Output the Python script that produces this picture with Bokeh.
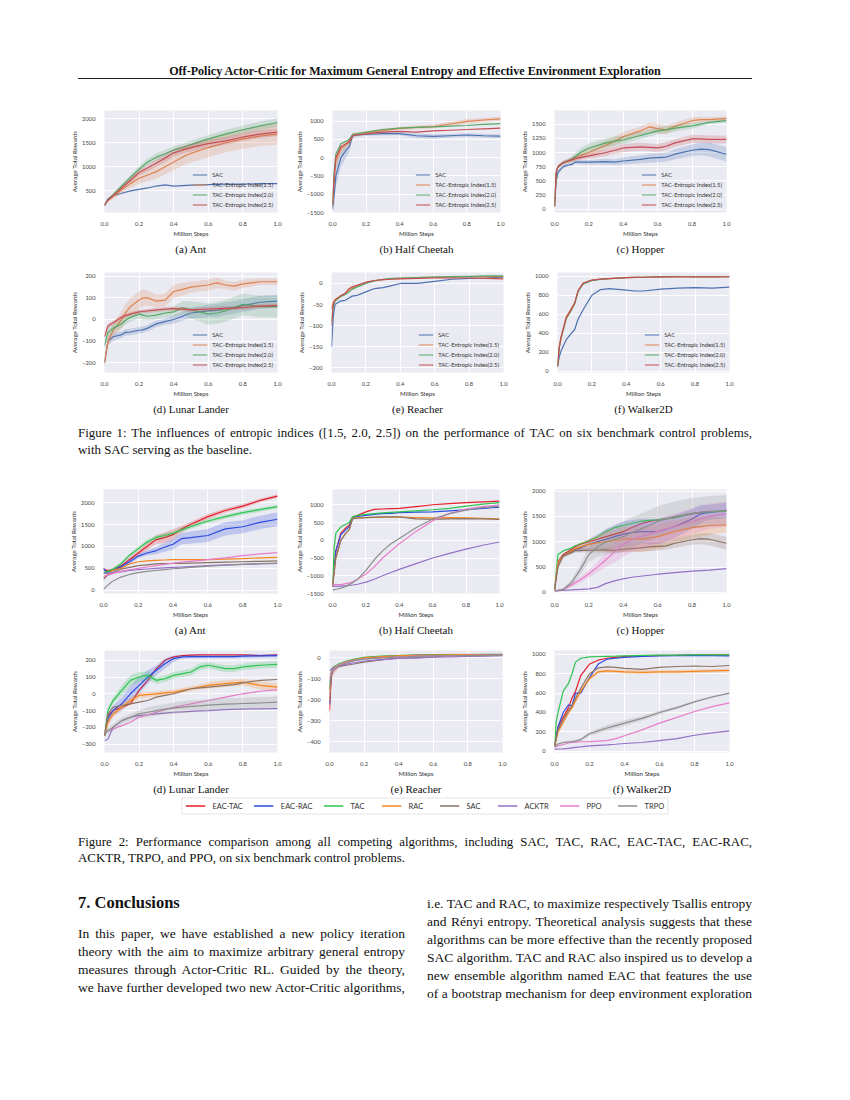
from bokeh.plotting import figure
from bokeh.layouts import column, row
from bokeh.models import Range1d, FixedTicker, Legend, LegendItem, Div, NumeralTickFormatter
from bokeh.embed import file_html
from bokeh.resources import INLINE

# ---------------------------------------------------------------- texts
HEADER = "Off-Policy Actor-Critic for Maximum General Entropy and Effective Environment Exploration"
CAP1 = ["Figure 1: The influences of entropic indices ([1.5, 2.0, 2.5]) on the performance of TAC on six benchmark control problems,",
        "with SAC serving as the baseline."]
CAP2 = ["Figure 2: Performance comparison among all competing algorithms, including SAC, TAC, RAC, EAC-TAC, EAC-RAC,",
        "ACKTR, TRPO, and PPO, on six benchmark control problems."]
SECTION = "7. Conclusions"
CONCL_LEFT = ["In this paper, we have established a new policy iteration",
              "theory with the aim to maximize arbitrary general entropy",
              "measures through Actor-Critic RL. Guided by the theory,",
              "we have further developed two new Actor-Critic algorithms,"]
CONCL_RIGHT = ["i.e. TAC and RAC, to maximize respectively Tsallis entropy",
               "and Rényi entropy. Theoretical analysis suggests that these",
               "algorithms can be more effective than the recently proposed",
               "SAC algorithm. TAC and RAC also inspired us to develop a",
               "new ensemble algorithm named EAC that features the use",
               "of a bootstrap mechanism for deep environment exploration"]

CAPTIONS = ["(a) Ant", "(b) Half Cheetah", "(c) Hopper", "(d) Lunar Lander", "(e) Reacher", "(f) Walker2D"]
X_LABEL = "Million Steps"
Y_LABEL = "Average Total Rewards"
X_TICKS = [0.0, 0.2, 0.4, 0.6, 0.8, 1.0]

# ---------------------------------------------------------------- Figure 1 data
F1_NAMES = ["SAC", "TAC-Entropic Index(1.5)", "TAC-Entropic Index(2.0)", "TAC-Entropic Index(2.5)"]
F1_COLORS = ["#4C72B0", "#DD8452", "#55A868", "#C44E52"]

F1_ANT_X = [0, 0.02, 0.05, 0.1, 0.15, 0.2, 0.25, 0.3, 0.35, 0.4, 0.45, 0.5, 0.6, 0.7, 0.8, 0.9, 1.0]
F1_ANT = {
    "SAC": [200, 330, 400, 450, 500, 530, 560, 600, 625, 600, 610, 620, 630, 640, 640, 650, 650],
    "TAC-Entropic Index(1.5)": [200, 300, 380, 520, 650, 760, 830, 900, 1000, 1100, 1200, 1280, 1400, 1500, 1580, 1640, 1680],
    "TAC-Entropic Index(2.0)": [200, 320, 420, 600, 780, 950, 1100, 1200, 1270, 1350, 1400, 1460, 1580, 1680, 1770, 1850, 1920],
    "TAC-Entropic Index(2.5)": [200, 310, 400, 560, 720, 880, 980, 1080, 1180, 1290, 1350, 1400, 1480, 1540, 1620, 1680, 1720],
}
F1_ANT_BAND = {
    "TAC-Entropic Index(1.5)": [10, 30, 50, 70, 90, 110, 130, 150, 160, 170, 180, 190, 200, 200, 210, 210, 220],
    "TAC-Entropic Index(2.0)": [10, 20, 30, 40, 50, 60, 70, 80, 80, 80, 80, 80, 80, 90, 90, 90, 90],
    "TAC-Entropic Index(2.5)": [10, 20, 30, 40, 50, 60, 70, 80, 80, 80, 80, 80, 80, 80, 80, 80, 80],
}

F1_HC_X = [0, 0.01, 0.02, 0.05, 0.08, 0.1, 0.12, 0.15, 0.2, 0.3, 0.4, 0.5, 0.6, 0.7, 0.8, 0.9, 1.0]
F1_HC = {
    "SAC": [-1400, -1000, -500, 0, 200, 300, 600, 620, 640, 660, 660, 600, 580, 600, 620, 600, 590],
    "TAC-Entropic Index(1.5)": [-1300, -600, -100, 250, 350, 420, 620, 650, 680, 740, 800, 830, 850, 920, 990, 1030, 1060],
    "TAC-Entropic Index(2.0)": [-1300, -400, 100, 380, 450, 500, 640, 660, 700, 770, 810, 830, 840, 860, 880, 910, 930],
    "TAC-Entropic Index(2.5)": [-1300, -500, 0, 300, 380, 450, 600, 620, 650, 700, 720, 700, 730, 750, 770, 790, 810],
}
F1_HC_BAND = {
    "SAC": [100, 300, 300, 250, 200, 150, 60, 50, 50, 50, 50, 60, 60, 50, 50, 50, 50],
    "TAC-Entropic Index(1.5)": [100, 200, 200, 150, 100, 100, 60, 50, 50, 50, 50, 50, 50, 60, 60, 60, 60],
}

F1_HOP_X = [0, 0.01, 0.02, 0.05, 0.08, 0.1, 0.12, 0.15, 0.2, 0.3, 0.35, 0.4, 0.5, 0.55, 0.6, 0.65, 0.7, 0.8, 0.85, 0.9, 1.0]
F1_HOP = {
    "SAC": [50, 500, 650, 750, 780, 790, 830, 830, 830, 840, 830, 850, 880, 900, 910, 920, 970, 1040, 1060, 1050, 970],
    "TAC-Entropic Index(1.5)": [50, 650, 750, 820, 850, 870, 900, 950, 1000, 1130, 1200, 1280, 1380, 1450, 1420, 1400, 1460, 1560, 1580, 1580, 1600],
    "TAC-Entropic Index(2.0)": [50, 650, 750, 820, 860, 880, 930, 1000, 1080, 1170, 1200, 1220, 1300, 1340, 1380, 1400, 1430, 1470, 1500, 1530, 1560],
    "TAC-Entropic Index(2.5)": [50, 650, 750, 820, 850, 870, 890, 910, 940, 1000, 1040, 1080, 1100, 1090, 1080, 1110, 1170, 1240, 1240, 1230, 1230],
}
F1_HOP_BAND = {
    "SAC": [10, 50, 40, 30, 30, 30, 30, 40, 40, 50, 50, 60, 70, 80, 80, 80, 90, 100, 110, 120, 130],
    "TAC-Entropic Index(1.5)": [10, 30, 30, 30, 40, 40, 50, 60, 70, 80, 80, 80, 80, 80, 80, 80, 70, 60, 50, 40, 40],
    "TAC-Entropic Index(2.0)": [10, 30, 30, 30, 40, 50, 60, 70, 80, 80, 80, 70, 60, 60, 60, 60, 60, 50, 40, 30, 30],
    "TAC-Entropic Index(2.5)": [10, 30, 30, 30, 30, 40, 40, 40, 50, 60, 60, 70, 70, 70, 70, 70, 70, 70, 70, 70, 70],
}

F1_LL_X = [0, 0.02, 0.05, 0.1, 0.12, 0.15, 0.2, 0.22, 0.25, 0.3, 0.35, 0.4, 0.45, 0.5, 0.6, 0.65, 0.7, 0.75, 0.8, 0.9, 1.0]
F1_LL = {
    "SAC": [-200, -100, -80, -70, -60, -58, -50, -48, -40, -20, -10, 0, 15, 30, 40, 42, 50, 55, 65, 80, 85],
    "TAC-Entropic Index(1.5)": [-200, -100, -50, 0, 30, 60, 90, 100, 100, 85, 90, 130, 140, 150, 160, 170, 160, 155, 165, 175, 175],
    "TAC-Entropic Index(2.0)": [-120, -60, -40, -20, -5, 10, 25, 20, 15, 20, 30, 35, 55, 45, 25, 30, 40, 55, 70, 60, 60],
    "TAC-Entropic Index(2.5)": [-80, -30, -15, 10, 18, 25, 35, 37, 40, 45, 48, 50, 48, 45, 48, 50, 52, 53, 55, 62, 65],
}
F1_LL_BAND = {
    "SAC": [20, 20, 20, 15, 15, 15, 15, 15, 15, 15, 15, 20, 20, 25, 30, 30, 30, 30, 30, 30, 30],
    "TAC-Entropic Index(1.5)": [20, 30, 30, 40, 40, 40, 40, 40, 35, 30, 30, 30, 30, 25, 25, 25, 20, 20, 20, 15, 15],
    "TAC-Entropic Index(2.0)": [20, 20, 20, 20, 20, 20, 20, 20, 20, 20, 20, 25, 30, 40, 50, 50, 50, 50, 50, 50, 50],
    "TAC-Entropic Index(2.5)": [10, 10, 10, 10, 10, 10, 10, 10, 10, 10, 10, 10, 10, 10, 10, 10, 10, 10, 10, 10, 10],
}

F1_RE_X = [0, 0.01, 0.02, 0.05, 0.08, 0.1, 0.12, 0.15, 0.2, 0.25, 0.3, 0.35, 0.4, 0.5, 0.6, 0.7, 0.8, 0.9, 1.0]
F1_RE = {
    "SAC": [-150, -80, -50, -42, -40, -35, -30, -28, -20, -12, -10, -5, 0, 0, 5, 10, 12, 13, 15],
    "TAC-Entropic Index(1.5)": [-60, -45, -38, -30, -24, -16, -11, -6, 2, 7, 9, 11, 12, 14, 15, 15, 16, 16, 16],
    "TAC-Entropic Index(2.0)": [-90, -55, -42, -32, -26, -20, -14, -8, 0, 6, 10, 12, 13, 14, 15, 16, 17, 18, 18],
    "TAC-Entropic Index(2.5)": [-100, -50, -40, -30, -23, -13, -8, -4, 3, 7, 9, 10, 11, 12, 13, 13, 13, 12, 11],
}

F1_WA_X = [0, 0.01, 0.02, 0.05, 0.08, 0.1, 0.12, 0.15, 0.2, 0.25, 0.3, 0.4, 0.45, 0.5, 0.6, 0.7, 0.8, 0.9, 1.0]
F1_WA = {
    "SAC": [50, 150, 210, 330, 400, 440, 550, 650, 800, 860, 870, 855, 845, 845, 865, 875, 880, 875, 885],
    "TAC-Entropic Index(1.5)": [50, 260, 360, 570, 660, 720, 850, 930, 960, 970, 975, 985, 988, 990, 993, 995, 990, 992, 995],
    "TAC-Entropic Index(2.0)": [50, 240, 340, 550, 640, 710, 840, 920, 955, 968, 975, 985, 988, 990, 993, 995, 995, 995, 995],
    "TAC-Entropic Index(2.5)": [50, 250, 350, 560, 650, 720, 850, 930, 960, 970, 975, 985, 988, 990, 993, 995, 995, 995, 995],
}

# ---------------------------------------------------------------- Figure 2 data
F2_NAMES = ["EAC-TAC", "EAC-RAC", "TAC", "RAC", "SAC", "ACKTR", "PPO", "TRPO"]
F2_COLORS = ["#E5202A", "#2B4BE0", "#2FC451", "#F5861F", "#8B7364", "#9470C8", "#E87CCB", "#8E8E8E"]

F2_ANT_X = [0, 0.02, 0.05, 0.1, 0.15, 0.2, 0.25, 0.3, 0.35, 0.4, 0.45, 0.5, 0.6, 0.7, 0.8, 0.9, 1.0]
F2_ANT = {
    "EAC-TAC": [480, 450, 460, 550, 700, 850, 1000, 1150, 1200, 1270, 1400, 1500, 1680, 1820, 1920, 2050, 2150],
    "EAC-RAC": [500, 400, 450, 530, 650, 780, 850, 900, 980, 1050, 1180, 1200, 1250, 1400, 1450, 1550, 1620],
    "TAC": [400, 420, 470, 600, 800, 950, 1100, 1200, 1250, 1300, 1380, 1450, 1580, 1680, 1770, 1840, 1910],
    "RAC": [300, 350, 450, 500, 600, 650, 670, 680, 690, 700, 700, 700, 700, 710, 720, 740, 750],
    "SAC": [250, 330, 400, 480, 520, 560, 580, 600, 605, 610, 615, 620, 630, 640, 650, 660, 670],
    "ACKTR": [380, 390, 400, 420, 450, 470, 485, 500, 510, 520, 530, 540, 560, 580, 590, 600, 610],
    "PPO": [300, 340, 380, 430, 470, 500, 530, 560, 590, 620, 640, 660, 700, 740, 790, 830, 860],
    "TRPO": [20, 100, 200, 300, 360, 400, 430, 450, 470, 490, 505, 520, 550, 570, 590, 610, 620],
}
F2_ANT_BAND = {
    "EAC-TAC": [40, 40, 40, 40, 50, 60, 80, 100, 120, 120, 80, 60, 60, 50, 50, 40, 40],
    "EAC-RAC": [40, 40, 40, 40, 50, 50, 60, 80, 100, 120, 130, 140, 150, 150, 150, 150, 160],
    "TAC": [30, 30, 30, 40, 40, 50, 50, 50, 50, 50, 50, 50, 50, 50, 50, 50, 50],
}

F2_HC_X = [0, 0.01, 0.02, 0.05, 0.08, 0.1, 0.12, 0.15, 0.2, 0.25, 0.3, 0.35, 0.4, 0.5, 0.6, 0.7, 0.8, 0.9, 1.0]
F2_HC = {
    "EAC-TAC": [-1300, -800, -300, 200, 350, 420, 650, 700, 800, 870, 880, 890, 900, 950, 1000, 1030, 1060, 1080, 1100],
    "EAC-RAC": [-1300, -800, -300, 150, 300, 380, 640, 670, 700, 730, 750, 760, 780, 790, 800, 830, 860, 900, 930],
    "TAC": [-1300, -200, 200, 380, 450, 500, 660, 700, 730, 750, 770, 785, 800, 830, 860, 900, 960, 1020, 1060],
    "RAC": [-1300, -900, -500, 0, 200, 300, 620, 630, 640, 645, 650, 650, 650, 640, 630, 640, 630, 620, 600],
    "SAC": [-1300, -900, -500, 0, 200, 300, 600, 620, 640, 650, 660, 660, 660, 600, 590, 600, 610, 600, 590],
    "ACKTR": [-1300, -1300, -1300, -1290, -1280, -1270, -1260, -1240, -1180, -1100, -1000, -910, -820, -660, -500, -370, -250, -140, -50],
    "PPO": [-1250, -1250, -1250, -1250, -1220, -1200, -1170, -1100, -950, -750, -500, -300, -100, 250, 550, 750, 880, 950, 1000],
    "TRPO": [-1400, -1390, -1380, -1350, -1300, -1250, -1200, -1100, -850, -550, -300, -100, 50, 350, 600, 750, 850, 920, 960],
}

F2_HOP_X = [0, 0.02, 0.05, 0.1, 0.12, 0.15, 0.2, 0.25, 0.3, 0.35, 0.4, 0.45, 0.5, 0.55, 0.6, 0.65, 0.7, 0.8, 0.85, 0.9, 1.0]
F2_HOP = {
    "EAC-TAC": [50, 600, 750, 850, 900, 950, 1000, 1050, 1100, 1150, 1200, 1280, 1350, 1400, 1430, 1450, 1480, 1550, 1580, 1590, 1610],
    "EAC-RAC": [50, 600, 720, 820, 850, 880, 950, 1000, 1050, 1100, 1150, 1180, 1200, 1200, 1200, 1250, 1300, 1450, 1550, 1580, 1620],
    "TAC": [50, 750, 820, 880, 920, 960, 1020, 1100, 1200, 1280, 1320, 1360, 1400, 1420, 1430, 1450, 1470, 1560, 1580, 1590, 1600],
    "RAC": [50, 600, 720, 820, 860, 900, 950, 980, 1000, 1020, 1050, 1060, 1050, 1070, 1100, 1150, 1200, 1280, 1300, 1320, 1330],
    "SAC": [50, 500, 720, 790, 830, 830, 830, 835, 840, 830, 850, 865, 880, 900, 910, 920, 970, 1040, 1060, 1050, 970],
    "ACKTR": [30, 35, 40, 50, 55, 60, 70, 100, 180, 230, 270, 300, 320, 340, 360, 375, 390, 420, 430, 440, 470],
    "PPO": [30, 40, 60, 150, 190, 250, 370, 500, 650, 800, 950, 1050, 1100, 1150, 1200, 1250, 1300, 1400, 1450, 1500, 1550],
    "TRPO": [30, 40, 60, 200, 300, 450, 750, 900, 1000, 1050, 1100, 1180, 1250, 1320, 1400, 1450, 1500, 1560, 1580, 1600, 1620],
}
F2_HOP_BAND = {
    "RAC": [10, 40, 40, 50, 60, 80, 100, 150, 200, 220, 250, 250, 250, 250, 250, 250, 220, 200, 200, 180, 150],
    "EAC-RAC": [10, 40, 40, 50, 60, 80, 100, 150, 200, 220, 250, 250, 250, 250, 250, 250, 220, 200, 180, 150, 150],
    "PPO": [10, 20, 20, 40, 50, 60, 80, 100, 150, 200, 250, 250, 250, 250, 250, 250, 250, 250, 250, 250, 250],
    "TRPO": [10, 20, 20, 60, 80, 100, 150, 200, 250, 280, 300, 300, 300, 300, 300, 300, 300, 300, 300, 300, 300],
    "SAC": [10, 50, 30, 30, 30, 40, 40, 45, 50, 50, 60, 65, 70, 80, 80, 80, 90, 100, 110, 120, 130],
}

F2_LL_X = [0, 0.02, 0.05, 0.1, 0.15, 0.2, 0.25, 0.3, 0.35, 0.4, 0.45, 0.5, 0.55, 0.6, 0.7, 0.75, 0.8, 0.9, 1.0]
F2_LL = {
    "EAC-TAC": [-250, -130, -100, -80, -60, 20, 80, 150, 200, 220, 228, 230, 232, 232, 232, 232, 232, 228, 232],
    "EAC-RAC": [-250, -150, -100, -60, 0, 50, 100, 140, 180, 210, 220, 222, 222, 222, 222, 222, 224, 226, 228],
    "TAC": [-250, -100, -40, 20, 80, 100, 110, 80, 90, 110, 120, 130, 160, 170, 150, 150, 160, 170, 175],
    "RAC": [-250, -170, -120, -80, -40, -10, -5, 0, 5, 10, 20, 30, 40, 50, 60, 65, 70, 50, 40],
    "SAC": [-250, -120, -80, -70, -60, -50, -40, -20, -10, 0, 15, 30, 35, 40, 50, 55, 65, 80, 85],
    "ACKTR": [-280, -270, -200, -160, -140, -130, -125, -120, -115, -110, -108, -105, -102, -100, -95, -93, -92, -90, -88],
    "PPO": [-230, -220, -210, -190, -170, -140, -125, -110, -95, -80, -70, -60, -50, -40, -20, -10, 0, 15, 25],
    "TRPO": [-240, -220, -200, -160, -140, -120, -110, -100, -92, -85, -80, -75, -72, -68, -62, -60, -58, -55, -50],
}
F2_LL_BAND = {
    "EAC-RAC": [20, 30, 30, 40, 50, 50, 40, 30, 30, 20, 10, 10, 10, 10, 10, 10, 10, 10, 10],
    "TAC": [20, 20, 20, 30, 30, 30, 25, 20, 20, 20, 20, 20, 20, 20, 20, 20, 20, 20, 20],
    "RAC": [20, 20, 20, 20, 20, 20, 15, 15, 15, 15, 15, 15, 15, 20, 20, 20, 20, 25, 25],
    "TRPO": [20, 20, 20, 20, 20, 25, 30, 30, 30, 35, 35, 35, 35, 35, 35, 35, 35, 35, 35],
}

F2_RE_X = [0, 0.01, 0.02, 0.05, 0.1, 0.15, 0.2, 0.3, 0.4, 0.5, 0.6, 0.7, 0.8, 0.9, 1.0]
F2_RE = {
    "EAC-TAC": [-250, -90, -60, -40, -20, -10, 0, 5, 10, 12, 13, 14, 15, 15, 15],
    "EAC-RAC": [-220, -80, -55, -35, -18, -8, 0, 6, 10, 12, 13, 14, 15, 15, 16],
    "TAC": [-150, -60, -45, -30, -15, -5, 2, 8, 11, 13, 14, 15, 16, 17, 17],
    "RAC": [-200, -70, -50, -35, -18, -8, 0, 6, 10, 12, 13, 14, 15, 15, 15],
    "SAC": [-150, -80, -50, -42, -35, -28, -20, -10, 0, 0, 5, 10, 12, 13, 15],
    "ACKTR": [-60, -55, -50, -40, -30, -22, -15, -8, -3, 0, 3, 5, 7, 8, 10],
    "PPO": [-100, -70, -55, -35, -20, -10, -5, 0, 5, 8, 10, 11, 12, 12, 13],
    "TRPO": [-120, -80, -60, -40, -22, -12, -6, 0, 4, 7, 9, 10, 11, 12, 12],
}
F2_RE_BAND = {
    "EAC-TAC": [60, 40, 20, 10, 8, 5, 5, 5, 5, 5, 5, 5, 5, 5, 5],
}

F2_WA_X = [0, 0.01, 0.02, 0.05, 0.08, 0.1, 0.12, 0.15, 0.2, 0.25, 0.3, 0.35, 0.4, 0.5, 0.6, 0.7, 0.8, 0.9, 1.0]
F2_WA = {
    "EAC-TAC": [50, 150, 250, 350, 450, 550, 620, 780, 900, 940, 960, 970, 980, 985, 990, 992, 995, 995, 995],
    "EAC-RAC": [50, 150, 250, 400, 480, 470, 600, 600, 760, 900, 950, 960, 970, 980, 985, 988, 990, 988, 985],
    "TAC": [50, 300, 400, 620, 700, 800, 920, 960, 975, 978, 980, 982, 985, 990, 992, 993, 995, 995, 995],
    "RAC": [50, 120, 200, 300, 400, 450, 520, 620, 750, 820, 830, 825, 820, 815, 820, 820, 825, 830, 835],
    "SAC": [50, 130, 220, 330, 420, 470, 550, 650, 800, 860, 870, 865, 855, 845, 865, 875, 880, 875, 885],
    "ACKTR": [20, 22, 23, 25, 30, 35, 40, 45, 55, 60, 65, 72, 80, 90, 110, 130, 165, 190, 210],
    "PPO": [40, 50, 55, 70, 85, 90, 95, 98, 100, 105, 110, 130, 160, 220, 290, 350, 410, 460, 500],
    "TRPO": [50, 65, 75, 90, 97, 100, 105, 120, 180, 210, 240, 265, 290, 340, 400, 450, 510, 560, 600],
}
F2_WA_BAND = {
    "RAC": [10, 20, 20, 20, 20, 20, 20, 20, 20, 20, 20, 20, 20, 20, 20, 20, 20, 20, 20],
    "TRPO": [10, 10, 10, 10, 10, 10, 10, 15, 20, 25, 30, 30, 30, 25, 20, 15, 10, 10, 10],
}

# axis ranges / ticks per panel
F1_YRANGES = [(50, 2170), (-1500, 1290), (-57, 1740), (-246, 218), (-211, 26), (-13, 1040)]
F1_YTICKS = [[500, 1000, 1500, 2000], [-1500, -1000, -500, 0, 500, 1000], [0, 250, 500, 750, 1000, 1250, 1500],
             [-200, -100, 0, 100, 200], [-200, -150, -100, -50, 0], [0, 200, 400, 600, 800, 1000]]
F2_YRANGES = [(-75, 2300), (-1500, 1430), (-20, 2030), (-350, 258), (-450, 35), (-13, 1040)]
F2_YTICKS = [[0, 500, 1000, 1500, 2000], [-1500, -1000, -500, 0, 500, 1000], [0, 500, 1000, 1500, 2000],
             [-300, -200, -100, 0, 100, 200], [-400, -300, -200, -100, 0], [0, 200, 400, 600, 800, 1000]]

F1_PANELS = [(F1_ANT_X, F1_ANT, F1_ANT_BAND), (F1_HC_X, F1_HC, F1_HC_BAND), (F1_HOP_X, F1_HOP, F1_HOP_BAND),
             (F1_LL_X, F1_LL, F1_LL_BAND), (F1_RE_X, F1_RE, {}), (F1_WA_X, F1_WA, {})]
F2_PANELS = [(F2_ANT_X, F2_ANT, F2_ANT_BAND), (F2_HC_X, F2_HC, {}), (F2_HOP_X, F2_HOP, F2_HOP_BAND),
             (F2_LL_X, F2_LL, F2_LL_BAND), (F2_RE_X, F2_RE, F2_RE_BAND), (F2_WA_X, F2_WA, F2_WA_BAND)]

# ---------------------------------------------------------------- layout geometry
COL_W = [284, 226, 324]
ROW_GEOM = [  # height, border top, border bottom, [(border left, frame width)]
    (165, 20, 41, [(96, 173), (35, 173), (35, 173)]),
    (160, 17, 41, [(96, 173), (39, 172), (39, 172)]),
    (166, 19, 41, [(95, 174), (35, 172), (35, 173)]),
    (159, 14, 39, [(96, 173), (37, 173), (35, 176)]),
]

BG = "#EAEAF2"
SANS = "Lato"
SERIF = "Liberation Serif"


def make_panel(idx, geom_row, col, xs, series, band, names, colors, yr, yticks, legend):
    h, bt, bb, cols = ROW_GEOM[geom_row]
    bl, fw = cols[col]
    w = COL_W[col]
    p = figure(width=w, height=h, x_range=Range1d(0, 1), y_range=Range1d(*yr),
               output_backend="svg", toolbar_location=None,
               title=CAPTIONS[idx], title_location="below",
               min_border_left=bl, min_border_right=w - bl - fw,
               min_border_top=bt, min_border_bottom=bb)
    p.background_fill_color = BG
    p.border_fill_color = "white"
    p.outline_line_color = None
    p.grid.grid_line_color = "white"
    p.grid.grid_line_width = 0.9
    p.xaxis.ticker = FixedTicker(ticks=X_TICKS)
    p.xaxis.formatter = NumeralTickFormatter(format="0.0")
    p.yaxis.ticker = FixedTicker(ticks=yticks)
    p.yaxis.major_label_overrides = {t: ("\u2212" + str(-t)) for t in yticks if t < 0}
    p.xaxis.axis_label = X_LABEL
    p.yaxis.axis_label = Y_LABEL
    for ax in (p.xaxis[0], p.yaxis[0]):
        ax.axis_line_color = None
        ax.major_tick_line_color = None
        ax.minor_tick_line_color = None
        ax.major_label_text_font = SANS
        ax.major_label_text_font_size = "5.8px"
        ax.major_label_text_color = "#444444"
        ax.axis_label_text_font = SANS
        ax.axis_label_text_font_size = "6.2px"
        ax.axis_label_text_font_style = "normal"
        ax.axis_label_text_color = "#333333"
        ax.major_label_standoff = 3
        ax.axis_label_standoff = 1
    p.title.text_font = SERIF
    p.title.text_font_size = "11px"
    p.title.text_font_style = "normal"
    p.title.text_color = "#111111"
    p.title.align = "center"
    p.title.standoff = 2

    items = []
    for name, c in zip(names, colors):
        ys = series[name]
        if name in band:
            lo = [y - b for y, b in zip(ys, band[name])]
            hi = [y + b for y, b in zip(ys, band[name])]
            p.varea(x=xs, y1=lo, y2=hi, fill_color=c, fill_alpha=0.22)
        r = p.line(xs, ys, line_color=c, line_width=1.2)
        items.append(LegendItem(label=name, renderers=[r]))
    if legend:
        lg = Legend(items=items, location="bottom_right")
        lg.label_text_font = SANS
        lg.label_text_font_size = "5.8px"
        lg.label_text_color = "#333333"
        lg.glyph_width = 15
        lg.glyph_height = 7
        lg.label_height = 7
        lg.label_standoff = 5
        lg.spacing = 3
        lg.padding = 2
        lg.margin = 2
        lg.background_fill_alpha = 0
        lg.border_line_alpha = 0
        p.add_layout(lg)
    return p


def panel_rows(panels, yranges, yticks, names, colors, first_geom, legend):
    rows = []
    for r in range(2):
        figs = []
        for c in range(3):
            i = r * 3 + c
            xs, series, band = panels[i]
            figs.append(make_panel(i, first_geom + r, c, xs, series, band, names, colors,
                                   yranges[i], yticks[i], legend))
        rows.append(row(*figs, spacing=0))
    return rows


def txt(text, left, top, width, size, lh, bold=False, align="justify"):
    weight = "bold" if bold else "normal"
    last = "justify" if align == "justify" else align
    return (f'<div style="position:absolute;left:{left}px;top:{top}px;width:{width}px;'
            f"font-family:'{SERIF}';font-size:{size}px;line-height:{lh}px;font-weight:{weight};"
            f'text-align:{align};text-align-last:{last};white-space:nowrap;color:#111">{text}</div>')


def block(html, w, h):
    return Div(text=f'<div style="position:relative;width:{w}px;height:{h}px;overflow:visible">{html}</div>',
               width=w, height=h, margin=(0, 0, 0, 0))


W = 834
header = block(txt(HEADER, 70, 55, 674, 12.1, 16, bold=True, align="center")
               + '<div style="position:absolute;left:70px;top:70px;width:674px;height:0;border-top:1.6px solid #222"></div>',
               W, 82)
cap1 = block(txt(CAP1[0], 70, 9.5, 674, 12.9, 17) + txt(CAP1[1], 70, 26.5, 674, 12.9, 17, align="left"), W, 55)
cap2 = block(txt(CAP2[0], 70, 17.5, 674, 12.9, 17) + txt(CAP2[1], 70, 33.5, 674, 12.9, 17, align="left"), W, 54)
concl_html = txt(SECTION, 70, 23, 300, 16.5, 20, bold=True, align="left")
for k, line in enumerate(CONCL_LEFT):
    concl_html += txt(line, 70, 55 + 18 * k, 327, 13.5, 18)
for k, line in enumerate(CONCL_RIGHT):
    concl_html += txt(line, 419, 25 + 18 * k, 325, 13.5, 18)
concl = block(concl_html, W, 140)

# legend strip for figure 2
lp = figure(width=W, height=21, x_range=Range1d(0, 1), y_range=Range1d(0, 1),
            output_backend="svg", toolbar_location=None,
            min_border_left=0, min_border_right=0, min_border_top=0, min_border_bottom=0)
lp.axis.visible = False
lp.grid.visible = False
lp.outline_line_color = None
lp.background_fill_color = "white"
leg_items = []
for name, c in zip(F2_NAMES, F2_COLORS):
    r = lp.line(x=[float("nan")], y=[float("nan")], line_color=c, line_width=1.5)
    leg_items.append(LegendItem(label=name, renderers=[r]))
lg2 = Legend(items=leg_items, location="center", orientation="horizontal")
lg2.label_text_font = SANS
lg2.label_text_font_size = "7.5px"
lg2.label_text_color = "#333333"
lg2.glyph_width = 20
lg2.glyph_height = 8
lg2.label_height = 8
lg2.label_standoff = 7
lg2.spacing = 11
lg2.padding = 3
lg2.margin = 0
lg2.border_line_color = "#cccccc"
lg2.border_line_width = 1
lg2.background_fill_color = "white"
lp.add_layout(lg2)

f1_rows = panel_rows(F1_PANELS, F1_YRANGES, F1_YTICKS, F1_NAMES, F1_COLORS, 0, True)
f2_rows = panel_rows(F2_PANELS, F2_YRANGES, F2_YTICKS, F2_NAMES, F2_COLORS, 2, False)

page = column(header, f1_rows[0], f1_rows[1], cap1, f2_rows[0], f2_rows[1], lp, cap2, concl,
              spacing=0, margin=(8, 0, 0, 8))

open("out.html", "w").write(file_html(page, INLINE))
